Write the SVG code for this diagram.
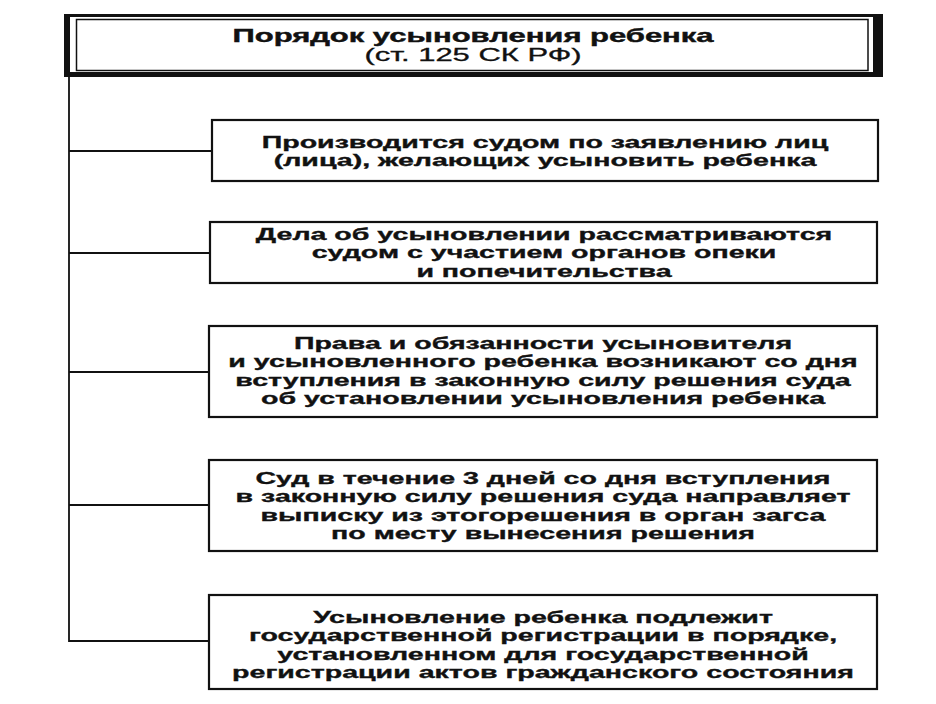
<svg xmlns="http://www.w3.org/2000/svg" width="936" height="704" viewBox="0 0 936 704">
<style>
.box{fill:#fff;stroke:#111;stroke-width:2.2}
.ln{fill:none;stroke:#111;stroke-width:1.8}
.t{font-family:"Liberation Sans",Arial,sans-serif;font-size:17px;font-weight:bold;fill:#111;stroke:#111;stroke-width:0.35;text-anchor:middle}
.tt{font-family:"Liberation Sans",Arial,sans-serif;font-size:17.5px;font-weight:bold;fill:#111;stroke:#111;stroke-width:0.4;text-anchor:middle}
.ts{font-family:"Liberation Sans",Arial,sans-serif;font-size:17.5px;font-weight:normal;fill:#111;stroke:#111;stroke-width:0.3;text-anchor:middle}
</style>
<rect x="0" y="0" width="936" height="704" fill="#fff"/>
<g id="connectors">
  <path class="ln" d="M69 77 V641 H209"/>
  <path class="ln" d="M69 151 H212"/>
  <path class="ln" d="M69 253 H210"/>
  <path class="ln" d="M69 372 H209"/>
  <path class="ln" d="M69 505 H209"/>
</g>
<g id="title">
  <rect x="64" y="14" width="819" height="63" fill="#111"/>
  <rect x="70" y="17" width="803" height="55" fill="#fff"/>
  <rect x="76.5" y="19.5" width="791.5" height="51" fill="none" stroke="#111" stroke-width="1.5"/>
  <g transform="translate(473 0) scale(1.77 1)">
    <text class="tt" x="0" y="42">Порядок усыновления ребенка</text>
    <text class="ts" x="0" y="61">(ст. 125 СК РФ)</text>
  </g>
</g>
<g id="n1">
  <rect class="box" x="212" y="120" width="666" height="61"/>
  <g transform="translate(545 0) scale(1.68 1)">
    <text class="t" x="0" y="148.5">Производится судом по заявлению лиц</text>
    <text class="t" x="0" y="166">(лица), желающих усыновить ребенка</text>
  </g>
</g>
<g id="n2">
  <rect class="box" x="210" y="222" width="667" height="61"/>
  <g transform="translate(544 0) scale(1.68 1)">
    <text class="t" x="0" y="240">Дела об усыновлении рассматриваются</text>
    <text class="t" x="0" y="258.5">судом с участием органов опеки</text>
    <text class="t" x="0" y="277">и попечительства</text>
  </g>
</g>
<g id="n3">
  <rect class="box" x="209" y="326" width="668" height="91"/>
  <g transform="translate(543 0) scale(1.68 1)">
    <text class="t" x="0" y="349">Права и обязанности усыновителя</text>
    <text class="t" x="0" y="367.5">и усыновленного ребенка возникают со дня</text>
    <text class="t" x="0" y="386">вступления в законную силу решения суда</text>
    <text class="t" x="0" y="404.5">об установлении усыновления ребенка</text>
  </g>
</g>
<g id="n4">
  <rect class="box" x="209" y="460" width="668" height="91"/>
  <g transform="translate(543 0) scale(1.68 1)">
    <text class="t" x="0" y="484">Суд в течение 3 дней со дня вступления</text>
    <text class="t" x="0" y="502.5">в законную силу решения суда направляет</text>
    <text class="t" x="0" y="521">выписку из этогорешения в орган загса</text>
    <text class="t" x="0" y="539">по месту вынесения решения</text>
  </g>
</g>
<g id="n5">
  <rect class="box" x="209" y="595" width="668" height="94"/>
  <g transform="translate(543 0) scale(1.68 1)">
    <text class="t" x="0" y="623">Усыновление ребенка подлежит</text>
    <text class="t" x="0" y="641.5">государственной регистрации в порядке,</text>
    <text class="t" x="0" y="660">установленном для государственной</text>
    <text class="t" x="0" y="678">регистрации актов гражданского состояния</text>
  </g>
</g>
</svg>
